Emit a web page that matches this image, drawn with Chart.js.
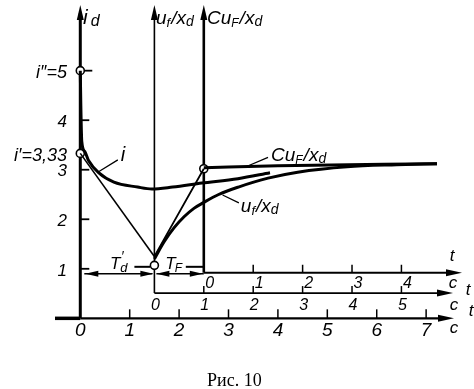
<!DOCTYPE html>
<html>
<head>
<meta charset="utf-8">
<script src="https://cdn.jsdelivr.net/npm/chart.js@4.4.0/dist/chart.umd.min.js"></script>
<style>
  html, body { margin: 0; padding: 0; background: #fff; }
</style>
</head>
<body>
<canvas id="fig" width="474" height="389"></canvas>
<script>
// time constants, s
var TdPrime = 1.5;
var TF = 1.0;

// current i (relative units) against time on the lowest axis
var iTime  = [0, 0.01, 0.03, 0.09, 0.17, 0.37, 0.68, 1.16, 1.45, 1.87, 2.46, 3.19, 3.84];
var iValue = [5.0, 4.35, 3.57, 3.37, 3.18, 2.94, 2.75, 2.65, 2.61, 2.65, 2.73, 2.82, 2.94];

// tangent from i' down to T_d'
var tangentTime  = [0, 1.5];
var tangentValue = [3.33, 1.25];

// C u_F / x_d : ramp over T_F, then flat
var rampTime  = [1.5, 2.5];
var rampValue = [1.25, 3.02];
var cuTime  = [2.5, 4.0, 7.22];
var cuValue = [3.04, 3.08, 3.12];

// u_f / x_d
var ufTime  = [1.5, 1.7, 1.9, 2.1, 2.3, 2.5, 2.8, 3.2, 3.8, 4.4, 5.4, 6.4, 7.22];
var ufValue = [1.2, 1.55, 1.83, 2.05, 2.22, 2.34, 2.5, 2.65, 2.83, 2.95, 3.06, 3.1, 3.12];

// open circles
var markTime  = [0, 0, 1.5, 2.5];
var markValue = [5, 3.33, 1.07, 3.02];

// i_d axis
var idTicks  = [5, 4, 3, 2, 1];
var idLabelValue = [5, 4, 3.33, 3, 2, 1];
var idLabels = ['i\u2033=5', '4', 'i\u2032=3,33', '3', '2', '1'];

// the three time axes
var bottomLabels = ['0', '1', '2', '3', '4', '5', '6', '7'];
var middleLabels = ['0', '1', '2', '3', '4', '5'];
var topLabels    = ['0', '1', '2', '3', '4'];

function pts(xs, ys) {
    return xs.map(function (x, k) { return { x: x, y: ys[k] }; });
}

function font(size) { return 'italic ' + size + 'px "Liberation Sans"'; }

// draws a word made of pieces with subscripts
function runs(ctx, x, y, parts) {
    ctx.textAlign = 'left';
    ctx.textBaseline = 'alphabetic';
    parts.forEach(function (p) {
        ctx.font = font(p[1]);
        ctx.fillText(p[0], x, y + (p[2] || 0));
        x += ctx.measureText(p[0]).width + (p[3] || 0);
    });
}

function arrow(ctx, x, y, dx, dy, len, half) {
    // tip at x,y pointing along dx,dy
    ctx.beginPath();
    ctx.moveTo(x, y);
    ctx.lineTo(x - dx * len - dy * half, y - dy * len - dx * half);
    ctx.lineTo(x - dx * len + dy * half, y - dy * len + dx * half);
    ctx.closePath();
    ctx.fill();
}

function line(ctx, x1, y1, x2, y2, w) {
    ctx.lineWidth = w;
    ctx.beginPath();
    ctx.moveTo(x1, y1);
    ctx.lineTo(x2, y2);
    ctx.stroke();
}

var frame = {
    id: 'frame',
    beforeDatasetsDraw: function (chart) {
        var ctx = chart.ctx, X = function (t) { return chart.scales.x.getPixelForValue(t); },
            Y = function (v) { return chart.scales.y.getPixelForValue(v); };
        ctx.save();
        ctx.strokeStyle = '#000';
        ctx.fillStyle = '#000';
        ctx.lineCap = 'butt';
        var top = 5, yB = Y(0), yM = Y(0.51), yT = Y(0.92);
        var x0 = X(0), xM = X(TdPrime), xT = X(TdPrime + TF);

        // i_d axis
        line(ctx, x0, top + 8, x0, yB, 3);
        arrow(ctx, x0, top, 0, -1, 15, 3.5);
        idTicks.forEach(function (v) {
            line(ctx, x0, Y(v), x0 + (v === 5 ? 12 : 9), Y(v), 1.8);
        });

        // u_f/x_d axis and middle time axis
        line(ctx, xM, top + 8, xM, yM, 1.6);
        arrow(ctx, xM, top, 0, -1, 15, 3.5);
        line(ctx, xM, yM, 440, yM, 1.8);
        arrow(ctx, 453, yM, 1, 0, 16, 3.5);
        for (var k = 1; k < middleLabels.length; k++) {
            line(ctx, X(TdPrime + k), yM - 7, X(TdPrime + k), yM, 1.5);
        }

        // C u_F/x_d axis and upper time axis
        line(ctx, xT, top + 8, xT, yT, 2.6);
        arrow(ctx, xT, top, 0, -1, 15, 3.5);
        line(ctx, xT, yT, 450, yT, 1.8);
        arrow(ctx, 462, yT, 1, 0, 16, 3.5);
        for (k = 1; k < topLabels.length; k++) {
            line(ctx, X(TdPrime + TF + k), yT - 8, X(TdPrime + TF + k), yT, 1.5);
        }

        // lowest time axis
        line(ctx, 55, yB, x0, yB, 3.5);
        line(ctx, x0, yB, 442, yB, 2.2);
        arrow(ctx, 454, yB, 1, 0, 16, 3.5);
        for (k = 1; k < bottomLabels.length; k++) {
            line(ctx, X(k), yB - 9, X(k), yB, 1.5);
        }

        // T_d' and T_F spans
        var ya = yT + 1;
        line(ctx, x0 + 4, ya, xM - 2, ya, 1.5);
        arrow(ctx, x0 + 5, ya, -1, 0, 13, 3);
        arrow(ctx, xM - 1, ya, 1, 0, 13, 3);
        line(ctx, xM + 2, ya, xT, ya, 1.5);
        arrow(ctx, xM + 2, ya, -1, 0, 13, 3);
        arrow(ctx, xT - 1, ya, 1, 0, 13, 3);

        // level-1 marks near the origins
        var y1 = Y(1.04);
        line(ctx, xM - 20, y1, xM - 4, y1, 2);
        line(ctx, xT - 18, y1, xT, y1, 2);
        ctx.restore();
    },
    afterDatasetsDraw: function (chart) {
        var ctx = chart.ctx, X = function (t) { return chart.scales.x.getPixelForValue(t); },
            Y = function (v) { return chart.scales.y.getPixelForValue(v); };
        ctx.save();
        ctx.fillStyle = '#000';
        ctx.strokeStyle = '#000';
        var yB = Y(0), yM = Y(0.51), yT = Y(0.92);

        // axis titles
        runs(ctx, 83, 24, [['i', 21, 0, 3], ['d', 16, 2]]);
        runs(ctx, 156, 24, [['u', 19], ['f', 13, 3, 1], ['/', 19], ['x', 19], ['d', 14, 2]]);
        runs(ctx, 207, 24, [['C', 19], ['u', 19], ['F', 12, 3, 1], ['/', 19], ['x', 19], ['d', 14, 2]]);

        // i_d tick labels
        ctx.textAlign = 'right';
        ctx.textBaseline = 'middle';
        idLabels.forEach(function (s, k) {
            ctx.font = font(k === 0 || k === 2 ? 18 : 17);
            ctx.fillText(s, 67, Y(idLabelValue[k]) + (k === 2 ? 3 : 2));
        });

        // time axis labels
        ctx.textAlign = 'center';
        ctx.font = font(19);
        bottomLabels.forEach(function (s, k) { ctx.fillText(s, X(k), yB + 12); });
        ctx.font = font(16);
        middleLabels.forEach(function (s, k) { ctx.fillText(s, X(TdPrime + k) + 1, yM + 12); });
        topLabels.forEach(function (s, k) { ctx.fillText(s, X(TdPrime + TF + k) + 6, yT + 11); });

        ctx.font = font(17);
        ctx.fillText('t', 452, yT - 16);
        ctx.fillText('c', 453, yT + 11);
        ctx.fillText('t', 468, yM - 3);
        ctx.fillText('c', 454, yM + 12);
        ctx.fillText('t', 471, yB - 7);
        ctx.fillText('c', 454, yB + 10);

        // curve names with leaders
        ctx.lineWidth = 1.3;
        ctx.beginPath();
        ctx.moveTo(X(0.76), Y(3.2)); ctx.lineTo(X(0.37), Y(2.96));
        ctx.moveTo(X(3.8), Y(3.25)); ctx.lineTo(X(3.33), Y(3.05));
        ctx.moveTo(X(3.21), Y(2.33)); ctx.lineTo(X(2.88), Y(2.49));
        ctx.stroke();
        runs(ctx, X(0.82), Y(3.17), [['i', 20]]);
        runs(ctx, X(3.86), Y(3.18), [['C', 19], ['u', 19], ['F', 12, 3, 1], ['/', 19], ['x', 19], ['d', 14, 2]]);
        runs(ctx, X(3.25), Y(2.14), [['u', 19], ['f', 13, 3, 1], ['/', 19], ['x', 19], ['d', 14, 2]]);
        runs(ctx, X(0.6), Y(1.0), [['T', 17], ['d', 13, 3]]);
        runs(ctx, X(0.6) + 11, Y(1.0) - 8, [['\u2032', 14]]);
        runs(ctx, X(1.72), Y(0.99), [['T', 17, 0, -1], ['F', 12, 3]]);

        // caption
        ctx.font = '18px "Liberation Serif"';
        ctx.textAlign = 'left';
        ctx.textBaseline = 'alphabetic';
        ctx.fillText('\u0420\u0438\u0441. 10', 207, 386);
        ctx.restore();
    }
};

var curve = function (xs, ys, w) {
    return {
        type: 'line',
        data: pts(xs, ys),
        borderColor: '#000',
        borderWidth: w,
        pointRadius: 0,
        fill: false,
        cubicInterpolationMode: 'monotone'
    };
};

var ctx = document.getElementById('fig').getContext('2d');
new Chart(ctx, {
    type: 'line',
    data: {
        datasets: [
            curve(iTime, iValue, 3),
            curve(tangentTime, tangentValue, 1.6),
            curve(rampTime, rampValue, 1.8),
            curve(cuTime, cuValue, 3),
            curve(ufTime, ufValue, 3),
            {
                type: 'scatter',
                data: pts(markTime, markValue),
                pointRadius: 4,
                pointBackgroundColor: '#fff',
                pointBorderColor: '#000',
                pointBorderWidth: 1.6
            }
        ]
    },
    plugins: [frame],
    options: {
        responsive: false,
        animation: false,
        devicePixelRatio: 1,
        layout: { padding: 0 },
        plugins: { legend: { display: false }, tooltip: { enabled: false } },
        scales: {
            x: { type: 'linear', display: false, min: -76.5 / 50.6, max: (474 - 76.5) / 50.6 },
            y: { type: 'linear', display: false, min: (322 - 389) / 51, max: 322 / 51 }
        }
    }
});
</script>
</body>
</html>
